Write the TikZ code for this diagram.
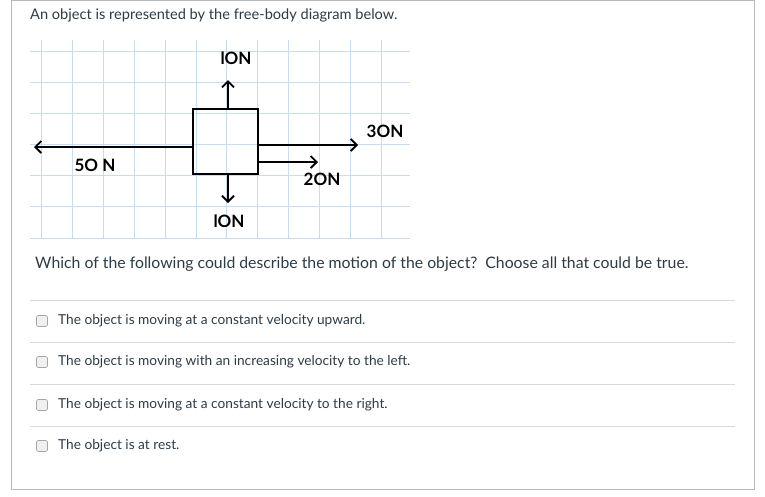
\documentclass[tikz,border=0pt]{standalone}
\usepackage{fontspec}
\setmainfont{Lato}
\usetikzlibrary{arrows.meta}
\definecolor{txt}{HTML}{2D3B45}
\definecolor{grid}{HTML}{C8DCF0}
\definecolor{sep}{HTML}{D8D8D8}
\tikzset{
 hand/.style={line width=2pt,black,line cap=round},
 harrow/.style={hand,-{Straight Barb[length=6pt,width=12pt,line width=1.8pt]}},
 flbl/.style={font=\fontsize{17}{17}\selectfont\bfseries,inner sep=0pt},
 opt/.style={font=\fontsize{13.7}{15}\selectfont,text=txt,anchor=west,inner sep=0pt},
 cbox/.style={draw=gray!70,fill=gray!12,rounded corners=1.5pt,minimum size=11pt,inner sep=0pt,line width=0.6pt}
}
\begin{document}
\begin{tikzpicture}[x=1pt,y=-1pt]
\useasboundingbox (0,0) rectangle (765,496);
\draw[gray!55,line width=0.8pt] (11,0) rectangle (754,489);
\node[anchor=west,inner sep=0pt,font=\fontsize{14.6}{16}\selectfont,text=txt] (title) at (30,15) {An object is represented by the free-body diagram below.};
% grid
\foreach \x in {41.7,72.3,103.3,134.3,165,196,226.7,257.3,288.3,319,350,381.7}
  \draw[grid,line width=0.6pt] (\x,40) -- (\x,239);
\foreach \y in {51.7,82.3,113.3,144.3,175,206,238}
  \draw[grid,line width=0.6pt] (30,\y) -- (410,\y);
% object
\node[draw,hand,minimum width=65pt,minimum height=65pt,inner sep=0pt] (box) at (225.5,141.5) {};
\coordinate (up) at (228,80);
\coordinate (dn) at (228,203);
\coordinate (lf) at (34,147);
\coordinate (rt) at (358,145);
\coordinate (rt2) at (318,162);
\draw[harrow] (box.north -| up) -- (up);
\draw[harrow] (box.south -| dn) -- (dn);
\draw[harrow] (box.west |- lf) -- (lf);
\draw[harrow] (box.east |- rt) -- (rt);
\draw[harrow,line width=1.7pt] (box.east |- rt2) -- (rt2);
\node[flbl] (l1) at (236,58) {lON};
\node[flbl] (l2) at (229,221) {lON};
\node[flbl] (l3) at (95,165) {5O N};
\node[flbl] (l4) at (385,131) {3ON};
\node[flbl] (l5) at (322,179) {2ON};
\node[anchor=west,inner sep=0pt,font=\fontsize{15.8}{17}\selectfont,text=txt] (q) at (35,264) {Which of the following could describe the motion of the object?\hspace{0.5em}Choose all that could be true.};
\foreach \y in {300,342,384,426} \draw[sep,line width=0.8pt] (30,\y) -- (735,\y);
\node[cbox] (c1) at (42,321) {};
\node[cbox] (c2) at (42,362) {};
\node[cbox] (c3) at (42,405) {};
\node[cbox] (c4) at (42,446) {};
\node[opt] (o1) at (58,321) {The object is moving at a constant velocity upward.};
\node[opt] (o2) at (58,362) {The object is moving with an increasing velocity to the left.};
\node[opt] (o3) at (58,405) {The object is moving at a constant velocity to the right.};
\node[opt] (o4) at (58,446) {The object is at rest.};
\end{tikzpicture}
\end{document}
